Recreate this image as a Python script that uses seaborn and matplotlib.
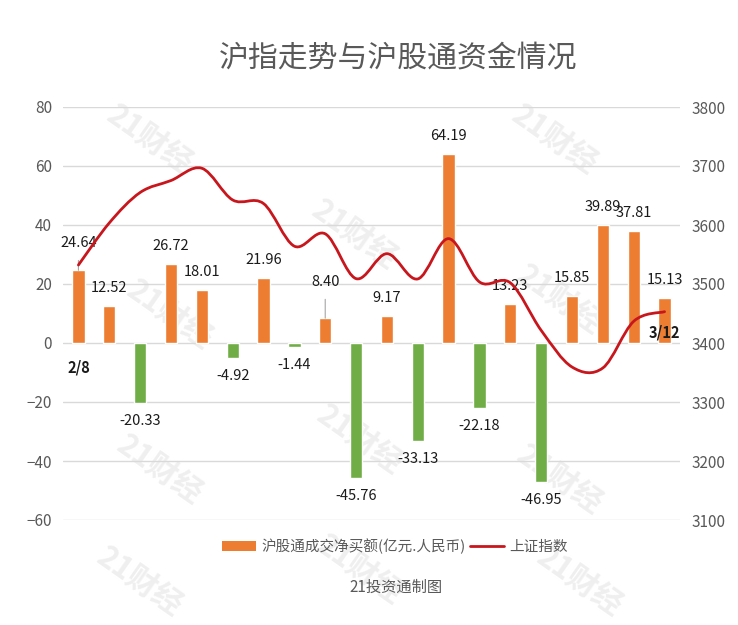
import numpy as np
import pandas as pd
import seaborn as sns
import matplotlib.pyplot as plt
import matplotlib.patches as patches
from matplotlib.path import Path
from matplotlib.lines import Line2D

# trading days, 2021-02-08 .. 2021-03-12
dates = ['2/8', '2/9', '2/10', '2/18', '2/19', '2/22', '2/23', '2/24', '2/25', '2/26',
         '3/1', '3/2', '3/3', '3/4', '3/5', '3/8', '3/9', '3/10', '3/11', '3/12']
net_buy = [24.64, 12.52, -20.33, 26.72, 18.01, -4.92, 21.96, -1.44, 8.40, -45.76,
           9.17, -33.13, 64.19, -22.18, 13.23, -46.95, 15.85, 39.89, 37.81, 15.13]
sse_index = [3532.18, 3603.49, 3655.09, 3675.36, 3696.17, 3642.44, 3636.36, 3564.08, 3585.05, 3509.08,
             3551.40, 3508.59, 3576.90, 3503.49, 3501.99, 3421.41, 3359.29, 3357.74, 3436.83, 3453.08]

left_ticks = [-60, -40, -20, 0, 20, 40, 60, 80]
right_ticks = [3100, 3200, 3300, 3400, 3500, 3600, 3700, 3800]

ORANGE = '#ED7D31'
GREEN = '#70AD47'
RED = '#C8161D'
GREY = '#595959'

sns.set_theme(style="white")
plt.rcParams['font.family'] = ['Noto Sans CJK SC', 'DejaVu Sans']

df = pd.DataFrame({'date': dates, 'net': net_buy, 'sse': sse_index})
df['sign'] = np.where(df['net'] >= 0, 'pos', 'neg')

fig = plt.figure(figsize=(7.38, 6.25), dpi=100)
ax = fig.add_axes([63 / 738, 1 - 520 / 625, 617 / 738, 413 / 625])
ax.set_facecolor('none')

# faint watermarks
marks = [(150, 140), (555, 140), (355, 235), (170, 315), (560, 300),
         (360, 440), (160, 470), (560, 480), (360, 570), (140, 582), (580, 582)]
for mx, my in marks:
    fig.text(mx / 738, 1 - my / 625, '21财经', fontsize=22, fontweight='bold',
             color='#efefef', rotation=-35, ha='center', va='center', zorder=-5)

sns.barplot(data=df, x='date', y='net', hue='sign',
            palette={'pos': ORANGE, 'neg': GREEN}, width=0.4, dodge=False,
            saturation=1, legend=False, ax=ax, zorder=3)

ax.set_xlim(-0.5, len(dates) - 0.5)
ax.set_ylim(-60, 80)
ax.set_yticks(left_ticks)
ax.set_xticks([])
ax.set_xlabel('')
ax.set_ylabel('')
ax.grid(axis='y', color='#d9d9d9', lw=1)
ax.set_axisbelow(True)
for s in ax.spines.values():
    s.set_visible(False)
ax.tick_params(axis='y', length=0, pad=8, labelsize=11, labelcolor=GREY)

# data labels
lift = {0: 19.5, 8: 26}
for i, v in enumerate(net_buy):
    off = lift.get(i, 13) * (1 if v >= 0 else -1)
    arrow = dict(arrowstyle='-', color='#a6a6a6', lw=0.8, shrinkA=5, shrinkB=0) if i in lift else None
    ax.annotate(f'{v:.2f}', xy=(i, v), xytext=(0, off), textcoords='offset points',
                ha='center', va='center', fontsize=10.5, color='#1a1a1a',
                arrowprops=arrow, zorder=5)

# index line on right axis, smoothed with cubic Bezier segments
ax2 = ax.twinx()
ax2.set_ylim(3100, 3800)
ax2.set_yticks(right_ticks)
ax2.tick_params(axis='y', length=0, pad=8, labelsize=11, labelcolor=GREY)
ax2.grid(False)
for s in ax2.spines.values():
    s.set_visible(False)

pts = np.column_stack([np.arange(len(sse_index)), sse_index])
ext = np.vstack([pts[0], pts, pts[-1]])
verts = [pts[0]]
codes = [Path.MOVETO]
for i in range(len(pts) - 1):
    p0, p1, p2, p3 = ext[i], ext[i + 1], ext[i + 2], ext[i + 3]
    verts += [p1 + (p2 - p0) / 6, p2 - (p3 - p1) / 6, p2]
    codes += [Path.CURVE4] * 3
ax2.add_patch(patches.PathPatch(Path(verts, codes), fill=False, edgecolor=RED,
                                lw=2.0, capstyle='round', zorder=6))

ax2.annotate(dates[0], xy=(0, sse_index[0]), xytext=(0, -74), textcoords='offset points',
             ha='center', va='center', fontsize=10.5, fontweight='bold', color='#1a1a1a')
ax2.annotate(dates[-1], xy=(len(dates) - 1, sse_index[-1]), xytext=(0, -15),
             textcoords='offset points', ha='center', va='center', fontsize=10.5,
             fontweight='bold', color='#1a1a1a')

fig.text(398 / 738, 1 - 58 / 625, '沪指走势与沪股通资金情况', fontsize=21.5,
         color=GREY, ha='center', va='center')

handles = [patches.Patch(facecolor=ORANGE, edgecolor='none'),
           Line2D([0], [0], color=RED, lw=2)]
fig.legend(handles=handles, labels=['沪股通成交净买额(亿元.人民币)', '上证指数'],
           loc='center', bbox_to_anchor=(395 / 738, 1 - 546 / 625), ncol=2,
           frameon=False, fontsize=10.5, labelcolor=GREY, handlelength=2.3,
           handleheight=0.7, handletextpad=0.4, columnspacing=0.3)

fig.text(396 / 738, 1 - 587 / 625, '21投资通制图', fontsize=11, color=GREY,
         ha='center', va='center')

fig.savefig('out.png', dpi=100)
